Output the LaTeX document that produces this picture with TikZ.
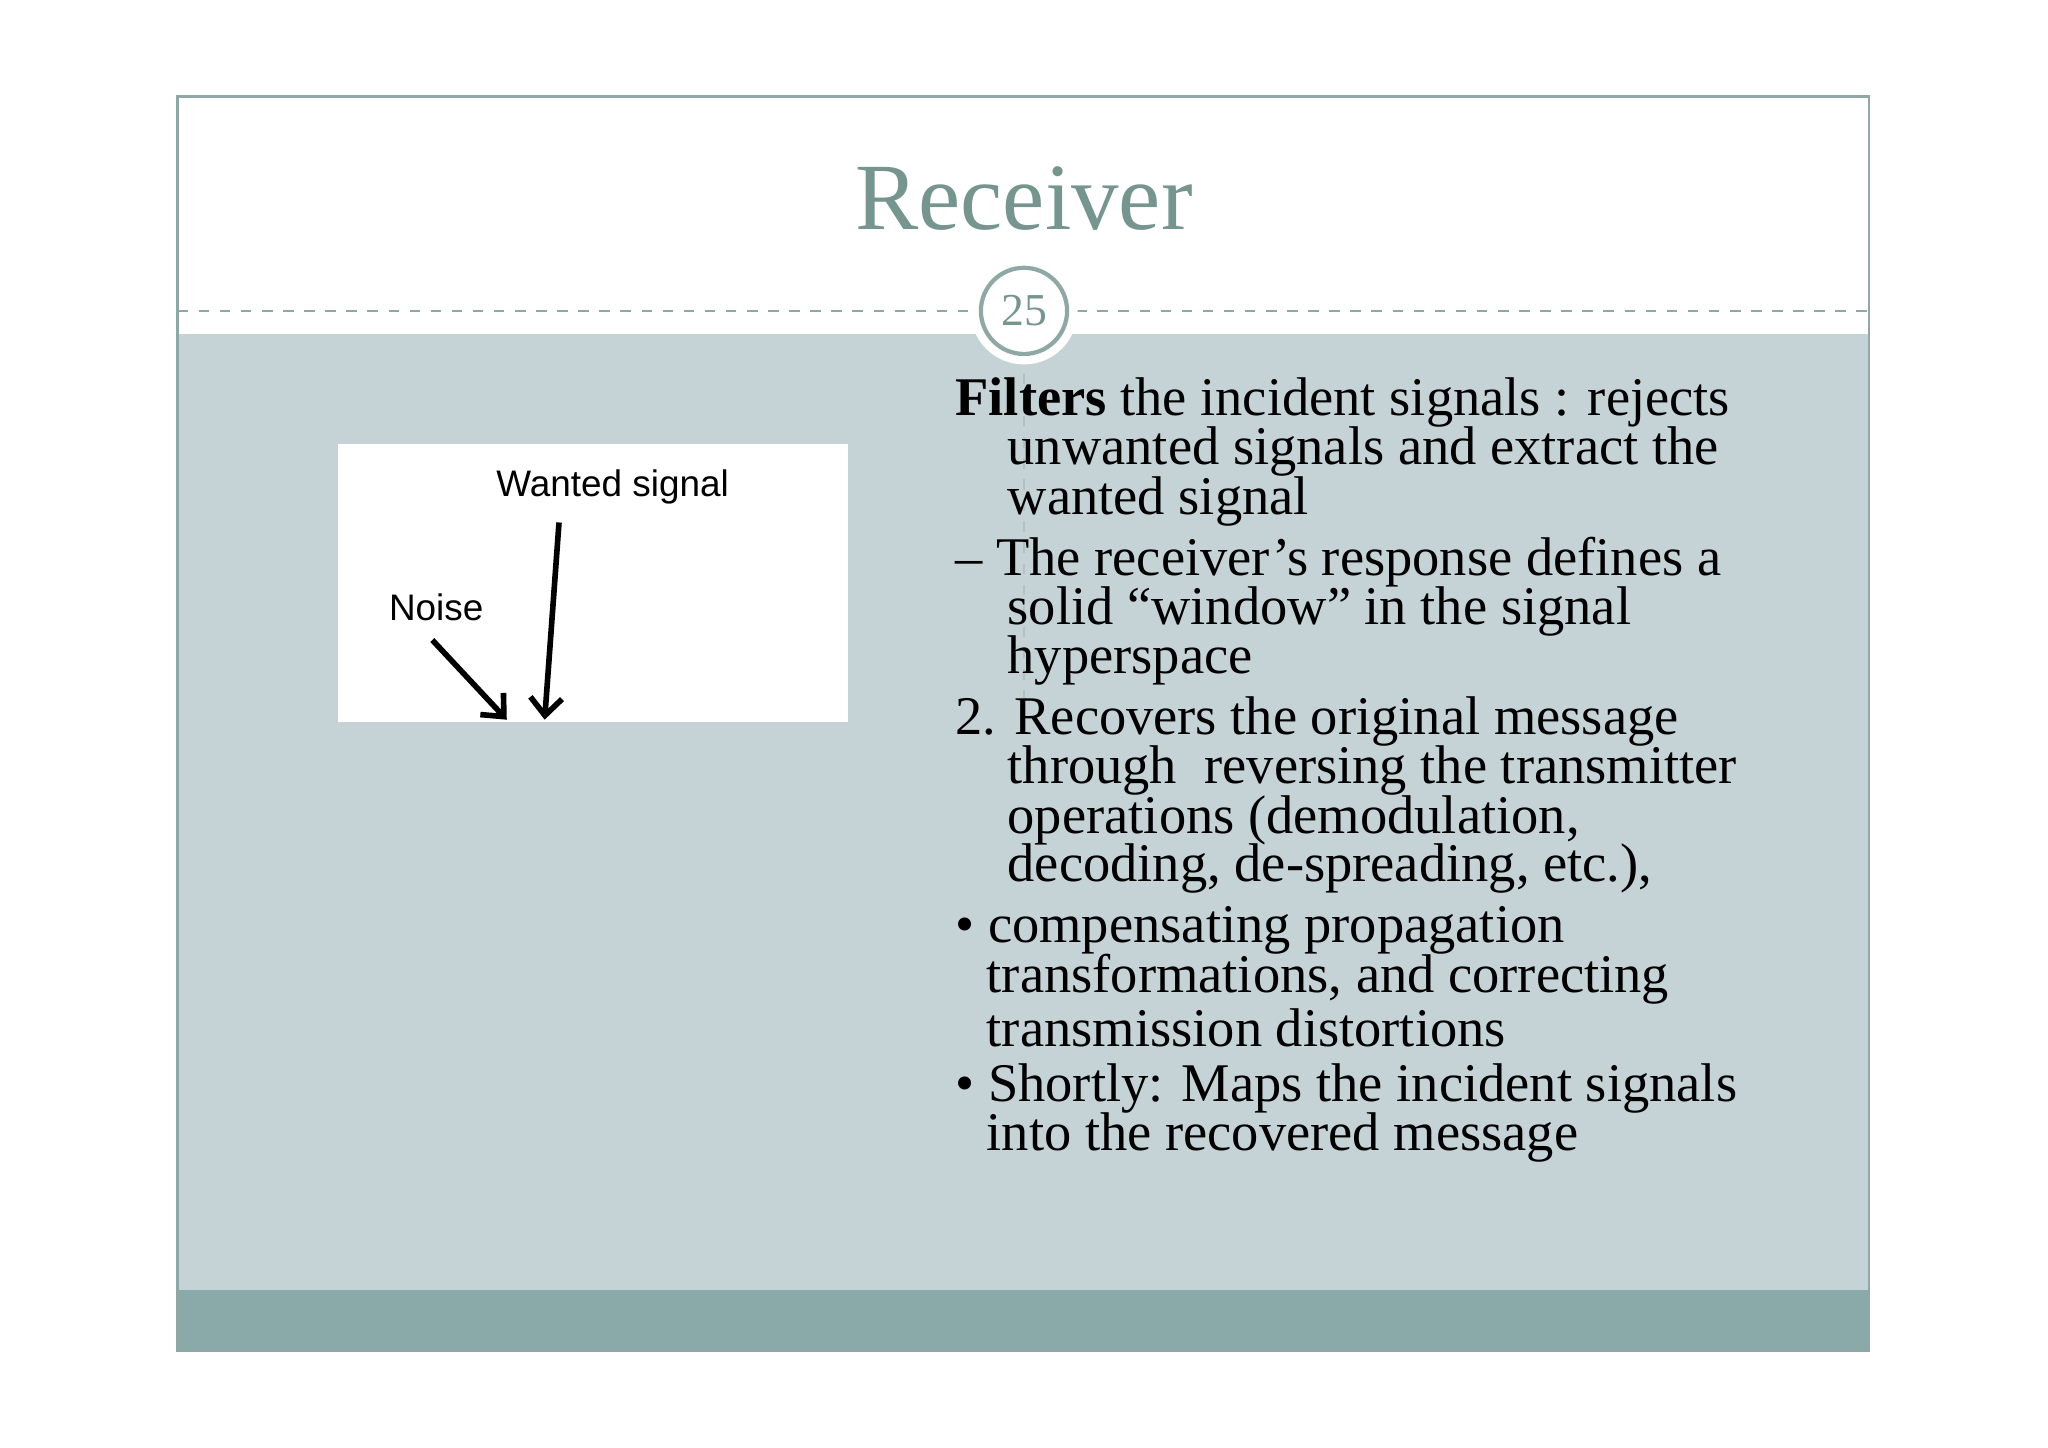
\documentclass[tikz,border=0pt]{standalone}
\usetikzlibrary{arrows.meta}
\usepackage{fontspec}
\setmainfont{Liberation Serif}
\newfontfamily\sansf{Liberation Sans}
\definecolor{frame}{HTML}{8FA8A6}
\definecolor{titlec}{HTML}{76958F}
\definecolor{bodybg}{HTML}{C5D3D6}
\definecolor{band}{HTML}{8AAAAA}
\begin{document}
\begin{tikzpicture}[x=0.013061cm,y=-0.013061cm,
  bl/.style={anchor=west,inner sep=0pt,font=\fontsize{15.5}{18}\selectfont},
  lbl/.style={inner sep=0pt,font=\sansf\fontsize{10.5}{12}\selectfont}]
\useasboundingbox (0,0) rectangle (1568,1108);
\fill[white] (0,0) rectangle (1568,1108);
\fill[bodybg] (136,256) rectangle (1431,988);
\fill[band] (136,988) rectangle (1431,1034);
\draw[frame,line width=0.8pt] (136,74) rectangle (1431,1034);
\node[text=titlec,font=\fontsize{27}{30}\selectfont] (title) at (784,152) {Receiver};
\draw[frame,dashed,line width=0.5pt] (136,238) -- (744,238);
\draw[frame,dashed,line width=0.5pt] (824,238) -- (1431,238);
\draw[frame!70,dashed,line width=0.4pt] (784,270) -- (784,540);
\fill[white] (784,238) circle (41);
\node[circle,draw=frame,line width=1.2pt,minimum size=0.862cm,inner sep=0pt,text=titlec,font=\fontsize{13}{14}\selectfont] (num) at (784,238) {25};
\fill[white] (259,340) rectangle (649,553);
\node[lbl] (ws) at (469,373) {Wanted signal};
\node[lbl] (nz) at (334,465) {Noise};
\coordinate (a1s) at (428,400); \coordinate (a1e) at (417,551);
\coordinate (a2s) at (331,490); \coordinate (a2e) at (388,551);
\draw[line width=1.6pt,-{Straight Barb[length=5pt,width=9pt]}] (a1s) -- (a1e);
\draw[line width=1.6pt,-{Straight Barb[length=5pt,width=9pt]}] (a2s) -- (a2e);
\node[bl] (l1) at (731,308) {\textbf{Filters} the incident signals : rejects};
\node[bl] (l2) at (771,346) {unwanted signals and extract the};
\node[bl] (l3) at (771,384) {wanted signal};
\node[bl] (l4) at (731,430) {– The receiver’s response defines a};
\node[bl] (l5) at (771,468) {solid “window” in the signal};
\node[bl] (l6) at (771,506) {hyperspace};
\node[bl] (l7) at (731,552) {2. Recovers the original message};
\node[bl] (l8) at (771,590) {through\ \ reversing the transmitter};
\node[bl] (l9) at (771,628) {operations (demodulation,};
\node[bl] (l10) at (771,665) {decoding, de-spreading, etc.),};
\node[bl] (l11) at (731,712) {\textbullet\ compensating propagation};
\node[bl] (l12) at (755,750) {transformations, and correcting};
\node[bl] (l13) at (755,787) {transmission distortions};
\node[bl] (l14) at (731,833) {\textbullet\ Shortly: Maps the incident signals};
\node[bl] (l15) at (755,871) {into the recovered message};
\end{tikzpicture}
\end{document}
